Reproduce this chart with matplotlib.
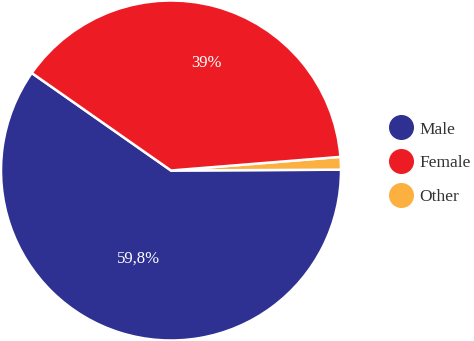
import matplotlib
matplotlib.use("Agg")
import matplotlib.pyplot as plt
from matplotlib.lines import Line2D

labels = ["Male", "Female", "Other"]
values = [59.8, 39.0, 1.2]
colors = ["#2E3192", "#ED1C24", "#FBB040"]
pct_text = ["59,8%", "39%", ""]

plt.rcParams['font.family'] = ['Liberation Serif', 'DejaVu Serif']

fig = plt.figure(figsize=(4.74, 3.41), dpi=100)
ax = fig.add_axes([1 / 474, 0.5 / 341, 340 / 474, 340 / 341])

# counter-clockwise order on the pie: Male, Other, Female
order = [0, 2, 1]
wedges, texts = ax.pie([values[i] for i in order],
                       colors=[colors[i] for i in order],
                       startangle=145.0, counterclock=True,
                       wedgeprops=dict(edgecolor="white", linewidth=1.8))
ax.set_aspect("equal")
ax.set_xlim(-1, 1)
ax.set_ylim(-1, 1)

ax.text(-0.19, -0.52, pct_text[0], color="white", fontsize=12, ha="center", va="center")
ax.text(0.21, 0.63, pct_text[1], color="white", fontsize=12, ha="center", va="center")

handles = [Line2D([], [], marker="o", linestyle="", markersize=17,
                  markerfacecolor=c, markeredgecolor=c) for c in colors]
fig.legend(handles, labels, loc="center left", bbox_to_anchor=(0.785, 0.522),
           frameon=False, fontsize=12.5, labelcolor="#333333",
           handletextpad=0.3, labelspacing=1.0, handlelength=1.5)

fig.savefig("out.png", dpi=100)
